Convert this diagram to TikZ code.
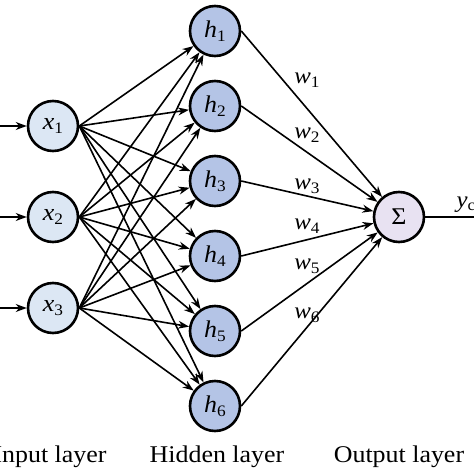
\documentclass[tikz,border=0pt]{standalone}
\usepackage{fontspec}
\setmainfont[FakeStretch=1.08]{Liberation Serif}
\usetikzlibrary{arrows.meta}
\definecolor{inputblue}{HTML}{DCE7F4}
\definecolor{hiddenblue}{HTML}{B4C4E6}
\definecolor{sumlav}{HTML}{E8E2F2}
\newcommand\nnlab[2]{\textit{#1}\raisebox{-0.35ex}{\fontsize{16}{17}\selectfont #2}}
\begin{document}
\begin{tikzpicture}[x=1pt,y=-1pt,
  neuron/.style={circle, draw=black, line width=2.6pt, minimum size=50pt, inner sep=0pt, font=\fontsize{24}{26}\selectfont},
  inp/.style={neuron, fill=inputblue},
  hid/.style={neuron, fill=hiddenblue},
  sumn/.style={neuron, fill=sumlav},
  conn/.style={line width=1.6pt, -{Stealth[length=11pt,width=8pt]}},
  wlab/.style={font=\fontsize{23}{25}\selectfont},
  layerlab/.style={anchor=base, font=\fontsize{24}{26}\selectfont}]
\useasboundingbox (0,0) rectangle (474,474);
\clip (0,0) rectangle (474,474);
\node[inp] (x1) at (53,126) {\nnlab{x}{1}};
\node[inp] (x2) at (53,217) {\nnlab{x}{2}};
\node[inp] (x3) at (53,308) {\nnlab{x}{3}};
\foreach \j in {1,...,6} {
  \node[hid] (h\j) at (215,{31+75*(\j-1)}) {\nnlab{h}{\j}};
}
\node[sumn] (s) at (399,217) {Σ};
\foreach \i/\y in {1/126,2/217,3/308} {
  \coordinate (in\i) at (0,\y);
  \draw[conn] (in\i) -- (x\i);
}
\foreach \i in {1,2,3} {
  \foreach \j in {1,...,6} {
    \draw[conn] (x\i.east) -- (h\j);
  }
}
\foreach \j in {1,...,6} {
  \draw[conn] (h\j.east) -- (s);
}
\coordinate (out) at (474,217);
\draw[line width=1.6pt] (s) -- (out);
\node[wlab, anchor=base west] (yc) at (453,207) {\nnlab{y}{c}};
\node[wlab] (w1) at (307,80) {\nnlab{w}{1}};
\node[wlab] (w2) at (307,135) {\nnlab{w}{2}};
\node[wlab] (w3) at (307,186) {\nnlab{w}{3}};
\node[wlab] (w4) at (307,226) {\nnlab{w}{4}};
\node[wlab] (w5) at (307,266) {\nnlab{w}{5}};
\node[wlab] (w6) at (307,315) {\nnlab{w}{6}};
\node[layerlab] (l1) at (50,462) {Input layer};
\node[layerlab] (l2) at (217,462) {Hidden layer};
\node[layerlab] (l3) at (399,462) {Output layer};
\end{tikzpicture}
\end{document}
